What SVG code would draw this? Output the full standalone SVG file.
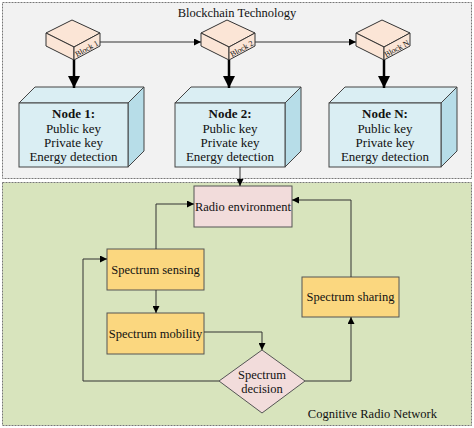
<svg xmlns="http://www.w3.org/2000/svg" width="474" height="428" viewBox="0 0 474 428" font-family="'Liberation Serif', 'DejaVu Serif', serif">
<defs>
<style>
text{font-family:'Liberation Serif','DejaVu Serif',serif;fill:#111;}
.t{font-size:12.5px;text-anchor:middle;}
.nb{font-size:13px;text-anchor:middle;}
.b{font-weight:bold;}
.blk{font-size:8px;text-anchor:middle;}
.cube{fill:#fbe5d6;stroke:#333;stroke-width:1;stroke-linejoin:round;}
.nf{fill:#daeef3;stroke:#444;stroke-width:1;}
.ns{fill:#b7dde8;stroke:#444;stroke-width:1;}
.ybox{fill:#fbd77f;stroke:#555;stroke-width:1;}
.pbox{fill:#f2dcdb;stroke:#555;stroke-width:1;}
.ln{fill:none;stroke:#333;stroke-width:1;}
.thick{fill:none;stroke:#000;stroke-width:2.5;}
</style>
<marker id="a" viewBox="0 0 10 10" refX="10" refY="5" markerWidth="9" markerHeight="7" markerUnits="userSpaceOnUse" orient="auto"><path d="M0,0L10,5L0,10z" fill="#000"/></marker>
<marker id="A" viewBox="0 0 10 10" refX="10" refY="5" markerWidth="12" markerHeight="12" markerUnits="userSpaceOnUse" orient="auto"><path d="M0,0L10,5L0,10z" fill="#000"/></marker>
</defs>
<rect x="2.5" y="2.5" width="469" height="176" fill="#f2f2f2" stroke="#777" stroke-dasharray="2,1"/>
<rect x="2.5" y="182.5" width="469" height="243" fill="#d8e4bd" stroke="#777" stroke-dasharray="2,1"/>
<text class="t" x="237" y="17">Blockchain Technology</text>
<text x="437" y="418" font-size="12.5" text-anchor="end">Cognitive Radio Network</text>

<g id="block1">
<polygon class="cube" points="46,33 72,20 100,33 74,47"/>
<polygon class="cube" points="46,33 74,47 74,60 46,46"/>
<polygon class="cube" points="74,47 100,33 100,46 74,60"/>
<text class="blk" transform="translate(88,51) rotate(-29)">Block 1</text>
</g>
<g id="block2">
<polygon class="cube" points="201,33 227,20 255,33 229,47"/>
<polygon class="cube" points="201,33 229,47 229,60 201,46"/>
<polygon class="cube" points="229,47 255,33 255,46 229,60"/>
<text class="blk" transform="translate(243,51) rotate(-29)">Block 2</text>
</g>
<g id="blockN">
<polygon class="cube" points="356,33 382,20 410,33 384,47"/>
<polygon class="cube" points="356,33 384,47 384,60 356,46"/>
<polygon class="cube" points="384,47 410,33 410,46 384,60"/>
<text class="blk" transform="translate(398,51) rotate(-29)">Block N</text>
</g>

<g id="node1">
<polygon class="nf" points="19,103 35,87 144,87 128,103"/>
<polygon class="ns" points="128,103 144,87 144,151 128,167"/>
<rect class="nf" x="19" y="103" width="109" height="64"/>
<text class="nb b" x="73.5" y="118">Node 1:</text>
<text class="nb" x="73.5" y="133">Public key</text>
<text class="nb" x="73.5" y="147">Private key</text>
<text class="nb" x="73.5" y="161">Energy detection</text>
</g>
<g id="node2">
<polygon class="nf" points="175,103 191,87 301,87 285,103"/>
<polygon class="ns" points="285,103 301,87 301,151 285,167"/>
<rect class="nf" x="175" y="103" width="110" height="64"/>
<text class="nb b" x="230" y="118">Node 2:</text>
<text class="nb" x="230" y="133">Public key</text>
<text class="nb" x="230" y="147">Private key</text>
<text class="nb" x="230" y="161">Energy detection</text>
</g>
<g id="nodeN">
<polygon class="nf" points="329,103 345,87 457,87 441,103"/>
<polygon class="ns" points="441,103 457,87 457,151 441,167"/>
<rect class="nf" x="329" y="103" width="112" height="64"/>
<text class="nb b" x="385" y="118">Node N:</text>
<text class="nb" x="385" y="133">Public key</text>
<text class="nb" x="385" y="147">Private key</text>
<text class="nb" x="385" y="161">Energy detection</text>
</g>

<g id="radio">
<rect class="pbox" x="194" y="186" width="98" height="41"/>
<text class="t" x="243" y="211">Radio environment</text>
</g>
<g id="sensing">
<rect class="ybox" x="107" y="249" width="97" height="41"/>
<text class="t" x="155.5" y="274">Spectrum sensing</text>
</g>
<g id="mobility">
<rect class="ybox" x="107" y="313" width="97" height="41"/>
<text class="t" x="155.5" y="338">Spectrum mobility</text>
</g>
<g id="sharing">
<rect class="ybox" x="302" y="277" width="97" height="40"/>
<text class="t" x="350.5" y="301">Spectrum sharing</text>
</g>
<g id="decision">
<polygon class="pbox" points="262,350 305,381 262,413 219,381"/>
<text class="t" x="262" y="379">Spectrum</text>
<text class="t" x="262" y="393">decision</text>
</g>

<g id="connectors">
<line class="ln" x1="100" y1="42" x2="201" y2="42" marker-end="url(#a)"/>
<line class="ln" x1="255" y1="42" x2="356" y2="42" marker-end="url(#a)"/>
<line class="thick" x1="74" y1="60" x2="74" y2="88" marker-end="url(#A)"/>
<line class="thick" x1="229" y1="60" x2="229" y2="88" marker-end="url(#A)"/>
<line class="thick" x1="384" y1="60" x2="384" y2="88" marker-end="url(#A)"/>
<line class="ln" x1="240" y1="167" x2="240" y2="186" marker-end="url(#a)"/>
<polyline class="ln" points="156,249 156,204 194,204" marker-end="url(#a)"/>
<polyline class="ln" points="351,277 351,200 292,200" marker-end="url(#a)"/>
<line class="ln" x1="156" y1="290" x2="156" y2="313" marker-end="url(#a)"/>
<polyline class="ln" points="204,332 262,332 262,350" marker-end="url(#a)"/>
<polyline class="ln" points="219,381 83,381 83,259 107,259" marker-end="url(#a)"/>
<polyline class="ln" points="305,381 351,381 351,317" marker-end="url(#a)"/>
</g>
</svg>
